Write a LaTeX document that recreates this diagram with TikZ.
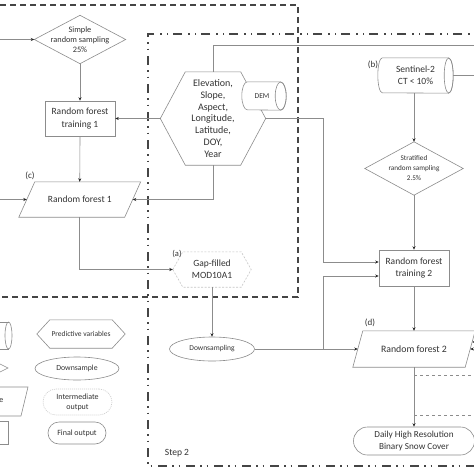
\documentclass[tikz,border=0pt]{standalone}
\usepackage{fontspec}
\setmainfont{Carlito}
\usetikzlibrary{shapes.geometric,shapes.misc,arrows.meta,calc}
\definecolor{txt}{HTML}{333333}
\definecolor{ln}{HTML}{8C8C8C}
\definecolor{frm}{HTML}{454545}
\newcommand\fsz[2]{\fontsize{#1}{#2}\selectfont}
\tikzset{
  conn/.style={draw=ln, line width=0.6pt},
  arr/.style={conn, -{Stealth[length=3.5pt,width=3pt,color=black!85]}},
  shp/.style={draw=ln, line width=0.6pt},
  ghost/.style={rectangle, draw=none, text=txt, align=center, inner sep=0pt},
  box/.style={rectangle, draw=ln, line width=0.6pt, text=txt, align=center, inner sep=0pt},
  ell/.style={ellipse, draw=ln, line width=0.6pt, text=txt, align=center, inner sep=0pt},
  gapst/.style={draw=gray!45, line width=0.6pt, dash pattern=on 2pt off 1.5pt},
  lab/.style={text=txt, inner sep=0pt},
  frameA/.style={draw=frm, line width=1.1pt, dash pattern=on 6pt off 4pt},
  frameB/.style={draw=frm, line width=1.3pt, dash pattern=on 9pt off 5pt on 1.5pt off 5pt on 1.5pt off 6pt},
}
\begin{document}
\begin{tikzpicture}[x=1pt,y=-1pt]
\useasboundingbox (0,0) rectangle (474,474);
\clip (0,0) rectangle (474,474);
\fill[white] (0,0) rectangle (474,474);

% frames
\draw[frameA] (-10,5) -- (298,5) -- (298,297) -- (-10,297);
\draw[frameB] (490,34) -- (148,34) -- (148,466) -- (490,466);
\node[lab, font=\fsz{9.5}{11}] (step) at (177,453) {Step 2};

% step 1
\node[ghost, minimum width=91pt, minimum height=48pt, font=\fsz{8.3}{10.3}] (d1) at (80,39.5) {Simple\\random sampling\\25\%};
\draw[shp] (d1.north) -- (d1.east) -- (d1.south) -- (d1.west) -- cycle;

\node[box, minimum width=70pt, minimum height=35pt, font=\fsz{9.5}{12.7}] (t1) at (80,118.5) {Random forest\\training 1};

\node[ghost, minimum width=105.5pt, minimum height=35pt, font=\fsz{9.5}{11}] (rf1) at (79.75,199.5) {Random forest 1};
\draw[shp] ([xshift=8pt]rf1.north west) -- ([xshift=8pt]rf1.north east) -- ([xshift=-8pt]rf1.south east) -- ([xshift=-8pt]rf1.south west) -- cycle;
\node[lab, font=\fsz{9}{10}] (lc) at (30,176) {(c)};

% predictive variables
\node[ghost, minimum width=105pt, minimum height=93pt, font=\fsz{10}{11.7}] (hex) at (213,118.5) {Elevation,\\Slope,\\Aspect,\\Longitude,\\Latitude,\\DOY,\\Year};
\draw[shp] (hex.west) -- ([xshift=25pt]hex.north west) -- ([xshift=-25pt]hex.north east) -- (hex.east) -- ([xshift=-25pt]hex.south east) -- ([xshift=25pt]hex.south west) -- cycle;
% DEM cylinder
\node[ghost, minimum width=44pt, minimum height=28pt] (demb) at (264,96) {};
\draw[shp, fill=white] ([xshift=-5.5pt]demb.north east) -- ([xshift=5.5pt]demb.north west) arc[start angle=270, end angle=90, x radius=5.5, y radius=14] -- ([xshift=-5.5pt]demb.south east) arc[start angle=90, end angle=-90, x radius=5.5, y radius=14] -- cycle;
\draw[shp] ([xshift=-5.5pt]demb.east) ellipse [x radius=5.5, y radius=14];
\node[ghost, font=\fsz{7.5}{9}] (dem) at ([xshift=-2pt]demb.center) {DEM};

\node[ghost, minimum width=78pt, minimum height=35pt, font=\fsz{9.5}{12}] (gap) at (212,269.5) {Gap-filled\\MOD10A1};
\draw[gapst] (gap.west) -- ([xshift=10pt]gap.north west) -- ([xshift=-10pt]gap.north east) -- (gap.east) -- ([xshift=-10pt]gap.south east) -- ([xshift=10pt]gap.south west) -- cycle;
\node[lab, font=\fsz{8.5}{10}] (la) at (177,254) {(a)};

\node[ell, minimum width=85pt, minimum height=24pt, font=\fsz{7.5}{9}] (down) at (212,349) {Downsampling};

% step 2
\node[ghost, minimum width=75pt, minimum height=35pt, font=\fsz{9.5}{12}] (sen) at (415.5,75.5) {Sentinel-2\\CT < 10\%};
\draw[shp] ([xshift=-4.5pt]sen.north east) -- ([xshift=4.5pt]sen.north west) arc[start angle=270, end angle=90, x radius=4.5, y radius=17.5] -- ([xshift=-4.5pt]sen.south east) arc[start angle=90, end angle=-90, x radius=4.5, y radius=17.5] -- cycle;
\draw[shp] ([xshift=-4.5pt]sen.east) ellipse [x radius=4.5, y radius=17.5];
\node[lab, font=\fsz{9}{10}] (lb) at (373,65) {(b)};

\node[ghost, minimum width=98pt, minimum height=53pt, font=\fsz{7.2}{10}] (strat) at (414,168.5) {Stratified\\random sampling\\2.5\%};
\draw[shp] (strat.north) -- (strat.east) -- (strat.south) -- (strat.west) -- cycle;

\node[box, minimum width=70pt, minimum height=36pt, font=\fsz{9.5}{12.7}] (t2) at (414,268) {Random forest\\training 2};

\node[ghost, minimum width=112pt, minimum height=36pt, font=\fsz{9.8}{11}] (rf2) at (414,349) {Random forest 2};
\draw[shp] ([xshift=5pt]rf2.north west) -- ([xshift=5pt]rf2.north east) -- ([xshift=-5pt]rf2.south east) -- ([xshift=-5pt]rf2.south west) -- cycle;
\node[lab, font=\fsz{9}{10}] (ld) at (370,323) {(d)};

\node[box, rounded corners=14pt, minimum width=121pt, minimum height=28pt, font=\fsz{9.2}{12}] (daily) at (414,441) {Daily High Resolution\\Binary Snow Cover};

% connectors
\coordinate (lin1) at (-5,39.5);
\coordinate (lin2) at (-5,199.5);
\draw[arr] (lin1) -- (d1.west);
\draw[arr] (d1.south) -- (t1.north);
\draw[arr] (hex.west) -- (t1.east);
\draw[arr] (t1.south) -- (rf1.north);
\draw[arr] (lin2) -- (rf1.west);
\draw[arr] (hex.south) |- (rf1.east);
\draw[arr] (rf1.south) |- (gap.west);
\draw[arr] (gap.south) -- (down.north);
\coordinate (topend) at (490,45);
\draw[conn] (hex.north) |- (topend);
\coordinate (b1) at (323,118.5);
\draw[arr] (hex.east) -- (b1) |- ([yshift=6pt]t2.west);
\draw[arr] (down.east) -- (rf2.west);
\coordinate (jn) at (323,349);
\draw[arr] (jn) |- ([yshift=-8pt]t2.west);
\coordinate (senend) at (490,75.5);
\draw[conn] (sen.east) -- (senend);
\coordinate (senb) at (414,93);
\draw[arr] (senb) -- (strat.north);
\draw[arr] (strat.south) -- (t2.north);
\draw[arr] (t2.south) -- (rf2.north);
\draw[arr] (rf2.south) -- (daily.north);
\coordinate (r1) at (490,342);
\coordinate (r2) at (490,349);
\draw[arr] (r1) -- ([xshift=2pt,yshift=7pt]rf2.east);
\draw[arr] (r2) -- (rf2.east);
\coordinate (ds1) at (414,375);
\coordinate (ds2) at (414,415);
\draw[conn, dashed] (ds1) -- (490,375);
\draw[conn, dashed] (ds2) -- (490,415);

% legend
\draw[shp] (-30,322) -- (8.5,322);
\draw[shp] (-30,349) -- (8.5,349);
\draw[shp] (8.5,335.5) ellipse [x radius=3.5pt, y radius=13.5pt];
\draw[shp] (-40,344) -- (8,368) -- (-40,392);
\draw[shp] (-10,387) -- (28,387) -- (21,416) -- (-10,416);
\node[lab, anchor=east, font=\fsz{8}{9}] (lfrag) at (3.5,401) {e};
\draw[shp] (-10,421) -- (8,421) -- (8,444) -- (-10,444);

\node[ghost, minimum width=88pt, minimum height=28pt, font=\fsz{7.5}{9}] (lhex) at (81,334) {Predictive variables};
\draw[shp] (lhex.west) -- ([xshift=13pt]lhex.north west) -- ([xshift=-13pt]lhex.north east) -- (lhex.east) -- ([xshift=-13pt]lhex.south east) -- ([xshift=13pt]lhex.south west) -- cycle;
\node[ell, minimum width=84pt, minimum height=23pt, font=\fsz{7.8}{9}] (lell) at (77,368.5) {Downsample};
\node[rectangle, rounded corners=13pt, draw=gray!40, line width=0.6pt, dash pattern=on 1pt off 1pt, text=txt, align=center, inner sep=0pt, minimum width=69pt, minimum height=26pt, font=\fsz{8}{10}] (lint) at (77.5,402) {Intermediate\\output};
\node[box, rounded corners=11pt, minimum width=58pt, minimum height=22pt, font=\fsz{8}{9}] (lfin) at (77,433) {Final output};
\end{tikzpicture}
\end{document}
